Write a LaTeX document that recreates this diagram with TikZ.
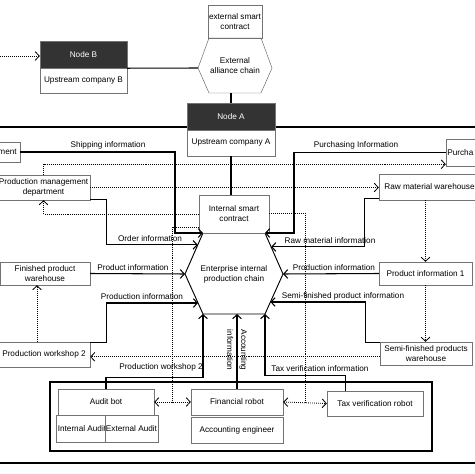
\documentclass[tikz,border=0pt]{standalone}
\usepackage{fontspec}
\setmainfont{Liberation Sans}
\usetikzlibrary{arrows.meta,calc}

\begin{document}
\begin{tikzpicture}[x=0.3mm, y=-0.3mm,
    box/.style={draw=black!55, fill=white, align=center, inner sep=1pt, font=\fontsize{7}{8.5}\selectfont},
    hdr/.style={box, fill=black!80, text=white},
    frame/.style={draw, line width=1.4pt},
    arr/.style={line width=0.9pt, -{Straight Barb[length=1.2mm, width=2.6mm]}},
    dotarr/.style={densely dotted, line width=0.7pt, -{Straight Barb[length=1.2mm, width=2.6mm]}},
    dotboth/.style={densely dotted, line width=0.7pt, {Straight Barb[length=1.2mm, width=2.6mm]}-{Straight Barb[length=1.2mm, width=2.6mm]}},
    dotline/.style={densely dotted, line width=0.7pt},
    lbl/.style={font=\fontsize{7}{8.5}\selectfont, inner sep=1pt}
  ]
  \useasboundingbox (0,0) rectangle (474,474);

  % Frames
  \draw[frame] (-10,127) rectangle (484,463);
  \draw[frame] (50,382) rectangle (432,451);

  % External alliance chain
  \node[box, minimum width=16.2mm, minimum height=9.9mm] (extsc) at (235,21.5) {external smart\\contract};
  \coordinate (xnw) at (209,38);
  \coordinate (xne) at (261,38);
  \coordinate (xe) at (272,68);
  \coordinate (xse) at (261,93);
  \coordinate (xsw) at (209,93);
  \coordinate (xw) at (198,68);
  \draw[black!60] (xnw) -- (xne) -- (xe) -- (xse) -- (xsw) -- (xw) -- cycle;
  \node[lbl, align=center] (extch) at (235,66) {External\\alliance chain};

  % Upstream companies
  \node[hdr, minimum width=26.1mm, minimum height=8.1mm] (nodeB) at (83.5,54.5) {Node B};
  \node[box, minimum width=26.1mm, minimum height=7.5mm] (upB) at (83.5,80.5) {Upstream company B};
  \node[hdr, minimum width=26.4mm, minimum height=8.1mm] (nodeA) at (231,116.5) {Node A};
  \node[box, minimum width=26.4mm, minimum height=7.8mm] (upA) at (231,143) {Upstream company A};
  \coordinate (lin) at (0,56);

  % Departments and warehouses
  \node[box, minimum width=15mm, minimum height=6mm, text width=13mm, align=right] (ment) at (-5,152) {ment};
  \node[box, inner sep=0.5pt, minimum width=18.3mm, minimum height=8.1mm, text width=17.5mm, align=left] (purch) at (476.5,152.5) {Purcha};
  \node[box, minimum width=27.9mm, minimum height=7.5mm] (pmd) at (43.5,187.5) {Production management\\department};
  \node[box, minimum width=30.3mm, minimum height=7.8mm] (rmw) at (429.5,187) {Raw material warehouse};
  \node[box, minimum width=27mm, minimum height=6.9mm] (fpw) at (45,273.5) {Finished product\\warehouse};
  \node[box, minimum width=27.9mm, minimum height=6.9mm] (pi1) at (425.5,273.5) {Product information 1};
  \node[box, minimum width=27.6mm, minimum height=7.5mm] (pw2) at (44,354.5) {Production workshop 2};
  \node[box, minimum width=27.6mm, minimum height=6.9mm] (sfw) at (426,353.5) {Semi-finished products\\warehouse};

  % Enterprise internal production chain
  \coordinate (hnw) at (203,233);
  \coordinate (hne) at (265,233);
  \coordinate (he) at (283,274);
  \coordinate (hse) at (265,314);
  \coordinate (hsw) at (203,314);
  \coordinate (hw) at (185,274);
  \draw[line width=0.8pt] (hnw) -- (hne) -- (he) -- (hse) -- (hsw) -- (hw) -- cycle;
  \node[lbl, align=center] (epc) at (234,274) {Enterprise internal\\production chain};
  \node[box, minimum width=21mm, minimum height=11.4mm] (ismc) at (234,214) {Internal smart\\contract};
  \coordinate (hoi) at ($(hw)!0.71!(hnw)$);
  \coordinate (hpi) at ($(hw)!0.725!(hsw)$);
  \coordinate (hri) at ($(he)!0.66!(hne)$);
  \coordinate (hsi) at ($(he)!0.7!(hse)$);

  % Robots
  \node[box, minimum width=28.8mm, minimum height=7.8mm] (audit) at (106,402) {Audit bot};
  \node[box, minimum width=15mm, minimum height=8.1mm] (intaud) at (82,428.5) {Internal Audit};
  \node[box, minimum width=14.7mm, minimum height=8.1mm] (extaud) at (131.5,428.5) {External Audit};
  \node[box, minimum width=27.6mm, minimum height=7.8mm] (fin) at (237,402) {Financial robot};
  \node[box, minimum width=27.6mm, minimum height=7.8mm] (acc) at (237,430) {Accounting engineer};
  \node[box, minimum width=28.8mm, minimum height=7.5mm] (tax) at (375,403.5) {Tax verification robot};

  % Upper connections
  \draw[dotarr] (lin) -- (lin -| nodeB.west);
  \draw[line width=0.9pt] (nodeB.south east) -- (xw);
  \draw[line width=0.9pt] (nodeA.north) -- (nodeA.north |- xse);
  \draw[line width=0.9pt] (upA.south) -- (upA.south |- ismc.north);

  % Information flows into the chain
  \draw[arr] (ment.east) -| ($(hnw)+(-28,0)$) -- (hnw);
  \node[lbl] (lShip) at (108,145) {Shipping information};
  \draw[arr] (purch.west) -| ($(hne)+(29,0)$) -- (hne);
  \node[lbl] (lPurch) at (356,145) {Purchasing Information};
  \draw[arr] ([yshift=0.3mm]pmd.south east) -- ++(16,0) |- (hoi);
  \node[lbl] (lOrder) at (150,239) {Order information};
  \draw[arr] ([yshift=0.6mm]rmw.south west) -- ++(-14,0) |- (hri);
  \node[lbl] (lRaw) at (330,241) {Raw material information};
  \draw[arr] (fpw.east) -- (hw);
  \node[lbl] (lProd) at (133,268) {Product information};
  \draw[arr] (pi1.west) -- (he);
  \node[lbl] (lProdR) at (334,268) {Production information};
  \draw[arr] ([yshift=-0.3mm]pw2.north east) -- ++(16,0) |- (hpi);
  \node[lbl] (lProdL) at (142,297) {Production information};
  \draw[arr] ([yshift=-0.3mm]sfw.north west) -- ++(-14,0) |- (hsi);
  \node[lbl] (lSemi) at (343,296) {Semi-finished product information};

  % Dotted material flows
  \draw[dotarr] (pmd.north) |- ([yshift=0.6mm]purch.south west);
  \draw[dotarr] (pmd.east) -- (pmd.east -| rmw.west);
  \draw[dotarr] (ismc.west) -| (pmd.south);
  \draw[dotarr] (pi1.north |- rmw.south) -- (pi1.north);
  \draw[dotarr] (pi1.south) -- (pi1.south |- sfw.north);
  \draw[dotarr] ([xshift=-2.1mm]pw2.north) -- ([xshift=-2.1mm]pw2.north |- fpw.south);
  \draw[dotarr] ([yshift=-1mm]sfw.west) -- ([yshift=-1mm]sfw.west -| pw2.east);

  % Robots to the chain
  \draw[arr] (audit.north) -- ++(0,-11) -| (hsw);
  \node[lbl] (lWork) at (161,367) {Production workshop 2};
  \draw[arr] (fin.north) -- (fin.north |- hse);
  \node[lbl, rotate=-90, align=center, font=\fontsize{7}{12}\selectfont] (lAcc) at (237,350) {Accounting\\information};
  \draw[arr] ($(tax.north west)+(19,0)$) -- ++(0,-15) -| (hse);
  \node[lbl] (lTax) at (320,369) {Tax verification information};

  % Smart contract to robots
  \draw[dotboth] (audit.east) -- (fin.west);
  \draw[dotboth] (fin.east) -- (tax.west);
  \draw[dotline] ([yshift=-3.9mm]ismc.west) -| ($(audit.east)!.5!(fin.west)$);
  \draw[dotline] ([yshift=0.3mm]ismc.east) -| ($(fin.east)!.5!(tax.west)$);
\end{tikzpicture}
\end{document}
